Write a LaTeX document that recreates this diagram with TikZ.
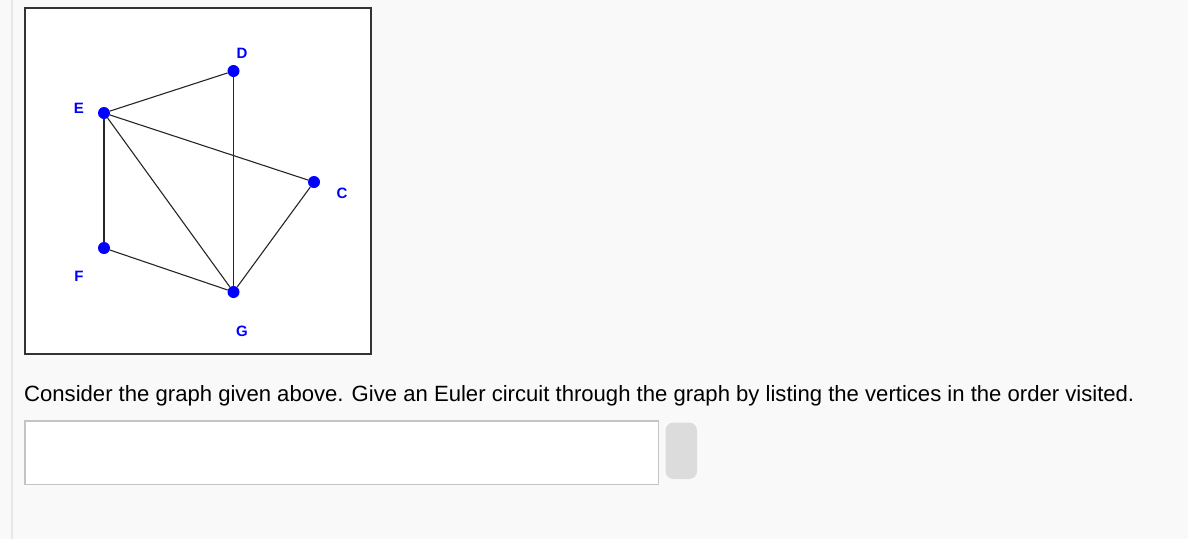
\documentclass[tikz,border=0pt]{standalone}
\usepackage{fontspec}
\setmainfont{Liberation Sans}
\definecolor{pagebg}{HTML}{F9F9F9}
\definecolor{stripe}{HTML}{E6E6E6}
\definecolor{frame}{HTML}{333333}
\definecolor{dotblue}{HTML}{0000FF}
\definecolor{boxline}{HTML}{C4C4C4}
\definecolor{btngray}{HTML}{DCDCDC}
\tikzset{
  vertex/.style={circle,fill=dotblue,inner sep=0pt,minimum size=12pt},
  vlabel/.style={text=dotblue,inner sep=0pt,font=\fontsize{15}{15}\selectfont\bfseries},
  edge/.style={draw=black!85,line width=1.1pt}
}
\begin{document}
\begin{tikzpicture}[x=1pt,y=-1pt]
    \fill[pagebg] (0,0) rectangle (1188,539);
    \useasboundingbox (0,0) rectangle (1188,539);
    \fill[stripe] (11,0) rectangle (13,539);
    \draw[line width=2pt,draw=frame,fill=white] (25,8) rectangle (371,354);
    % the vertices
    \node[vertex] (D) at (233.5,71) {};
    \node[vertex] (E) at (104,113) {};
    \node[vertex] (C) at (314,182) {};
    \node[vertex] (F) at (104,248) {};
    \node[vertex] (G) at (233.5,292) {};
    \node[vlabel] (Dlab) at (242,53) {D};
    \node[vlabel] (Elab) at (79,108) {E};
    \node[vlabel] (Clab) at (342,193) {C};
    \node[vlabel] (Flab) at (79,276) {F};
    \node[vlabel] (Glab) at (242,331) {G};
    % the edges
    \draw[edge] (E) -- (D);
    \draw[edge] (E) -- (C);
    \draw[edge] (E) -- (F);
    \draw[edge] (E) -- (G);
    \draw[edge] (D) -- (G);
    \draw[edge] (C) -- (G);
    \draw[edge] (F) -- (G);
    % question and answer field
    \node[anchor=base west,inner sep=0pt,font=\fontsize{22.1}{26}\selectfont] (question) at (24,401.3)
      {Consider the graph given above. Give an Euler circuit through the graph by listing the vertices in the order visited.};
    \draw[draw=boxline,line width=1.5pt,fill=white] (24.75,420.75) rectangle (658.25,484.25);
    \fill[btngray,rounded corners=8pt] (665.5,422.5) rectangle (697,479);
\end{tikzpicture}
\end{document}
